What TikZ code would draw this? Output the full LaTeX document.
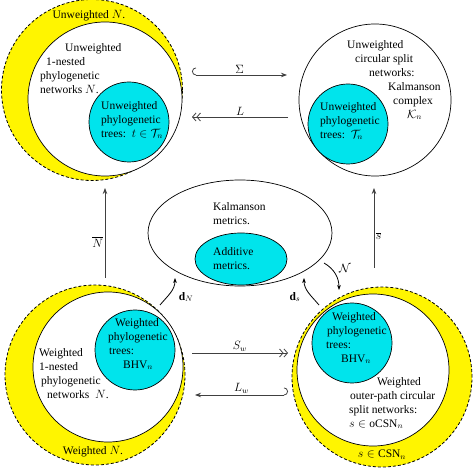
\documentclass[tikz,border=0pt]{standalone}
\usepackage{fontspec}
\setmainfont{Liberation Serif}
\usetikzlibrary{shapes.geometric,arrows.meta}

\definecolor{setyellow}{RGB}{255,245,0}
\definecolor{setcyan}{RGB}{0,228,236}

\tikzset{
  outerset/.style={circle, draw, dash pattern=on 3pt off 2pt, fill=setyellow, line width=0.8pt, inner sep=0pt},
  innerset/.style={circle, draw, fill=white, line width=0.7pt, inner sep=0pt},
  treeset/.style={circle, draw, fill=setcyan, line width=0.7pt, inner sep=0pt, minimum size=80pt},
  lbl/.style={font=\fontsize{11.5}{14}\selectfont, inner sep=0pt},
  blockl/.style={lbl, align=left, anchor=north west},
  map/.style={draw=black!75, line width=0.8pt},
  maplbl/.style={font=\fontsize{11.5}{14}\selectfont, inner sep=1.5pt}
}

\begin{document}
\begin{tikzpicture}[x=1pt, y=-1pt]
\useasboundingbox (0,0) rectangle (474,470);

% the four nested sets
\node[outerset, minimum size=181pt] (tlout) at (92,90) {};
\node[innerset, minimum size=154pt] (tlin) at (105,99) {};
\node[treeset] (tltree) at (129,122) {};

\node[innerset, minimum size=152pt] (trin) at (375,100) {};
\node[treeset] (trtree) at (348,124) {};

\node[outerset, minimum size=180pt] (blout) at (95,375) {};
\node[innerset, minimum size=150pt] (blin) at (108,367) {};
\node[treeset] (bltree) at (135,350) {};

\node[outerset, minimum size=180pt] (brout) at (382,377) {};
\node[innerset, minimum size=152pt] (brin) at (373,370) {};
\node[treeset] (brtree) at (352,343) {};

% metrics in the middle
\node[ellipse, draw, fill=white, line width=0.7pt, inner sep=0pt, minimum width=184pt, minimum height=106pt] (kal) at (240,233) {};
\node[ellipse, draw, fill=setcyan, line width=0.7pt, inner sep=0pt, minimum width=92pt, minimum height=52pt] (add) at (241,259) {};

% texts
\node[lbl] (tlouttxt) at (89,16) {Unweighted $N$.};
\node[blockl] (tlintxt) at (40,43) {\hspace*{25pt}Unweighted\\\hspace*{6pt}1-nested\\phylogenetic\\networks $N$.};
\node[blockl] (tltreetxt) at (101,101) {Unweighted\\phylogenetic\\trees:\ \ $t\in\mathcal{T}_n$};

\node[blockl] (trintxt) at (347,40) {Unweighted\\\hspace*{8pt}circular split\\\hspace*{22pt}networks:\\\hspace*{41pt}Kalmanson\\\hspace*{46pt}complex\\\hspace*{60pt}$\mathcal{K}_n$};
\node[blockl] (trtreetxt) at (320,102) {Unweighted\\phylogenetic\\trees:\ \ $\mathcal{T}_n$};

\node[blockl] (kaltxt) at (213,202) {Kalmanson\\metrics.};
\node[blockl] (addtxt) at (213,247) {Additive\\metrics.};

\node[blockl] (bltreetxt) at (108,318) {\hspace*{7pt}Weighted\\phylogenetic\\\hspace*{1pt}trees:\\\hspace*{15pt}BHV$_n$};
\node[blockl] (blintxt) at (39,348) {Weighted\\1-nested\\\hspace*{2pt}phylogenetic\\\hspace*{8pt}networks\ \ $N$.};
\node[lbl] (blouttxt) at (93,452) {Weighted $N$.};

\node[blockl] (brtreetxt) at (326,312) {\hspace*{6pt}Weighted\\\hspace*{1pt}phylogenetic\\trees:\\\hspace*{15pt}BHV$_n$};
\node[blockl] (brintxt) at (349,377) {\hspace*{28pt}Weighted\\\hspace*{1pt}outer-path circular\\split networks:\\$s\in{}$oCSN$_n$};
\node[lbl] (brouttxt) at (382,455) {$s\in{}$CSN$_n$};

% maps between the sets
\coordinate (sigA) at (192,75);
\coordinate (sigB) at (287,75);
\coordinate (lA) at (288,117);
\coordinate (lB) at (192,117);
\coordinate (swA) at (192,353);
\coordinate (swB) at (288,353);
\coordinate (lwA) at (288,395);
\coordinate (lwB) at (195,395);
\coordinate (nbA) at (105,278);
\coordinate (nbB) at (105,188);
\coordinate (sbA) at (374,268);
\coordinate (sbB) at (374,188);
\coordinate (dnA) at (160,305);
\coordinate (dnB) at (175,278);
\coordinate (dsA) at (319,305);
\coordinate (dsB) at (304,278);
\coordinate (cnA) at (324,263);
\coordinate (cnB) at (339,290);

\draw[map, {Hooks[right, length=4pt, width=15pt]}-{Stealth[length=6pt]}] (sigA) -- node[maplbl, above] {$\Sigma$} (sigB);
\draw[map, -{Straight Barb[length=3.5pt, width=8pt]Straight Barb[length=3.5pt, width=8pt]}] (lA) -- node[maplbl, above] {$L$} (lB);
\draw[map, -{Straight Barb[length=3.5pt, width=8pt]Straight Barb[length=3.5pt, width=8pt]}] (swA) -- node[maplbl, above] {$S_w$} (swB);
\draw[map, {Hooks[left, length=4pt, width=15pt]}-{Stealth[length=6pt]}] (lwA) -- node[maplbl, above] {$L_w$} (lwB);
\draw[map, -{Stealth[length=6pt]}] (nbA) -- node[maplbl, left, pos=0.4] {$\overline{N}$} (nbB);
\draw[map, -{Stealth[length=6pt]}] (sbA) -- node[maplbl, right, pos=0.4] {$\overline{s}$} (sbB);
\draw[map, black, -{Stealth[length=5pt]}] (dnA) to[out=50, in=-90] (dnB);
\node[maplbl] (dnlbl) at (186,297) {$\mathbf{d}_N$};
\draw[map, black, -{Stealth[length=5pt]}] (dsA) to[out=130, in=-90] (dsB);
\node[maplbl] (dslbl) at (295,297) {$\mathbf{d}_s$};
\draw[map, black, -{Stealth[length=5pt]}] (cnA) to[out=-30, in=90] (cnB);
\node[maplbl] (cnlbl) at (345,268) {$\mathcal{N}$};
\end{tikzpicture}
\end{document}
